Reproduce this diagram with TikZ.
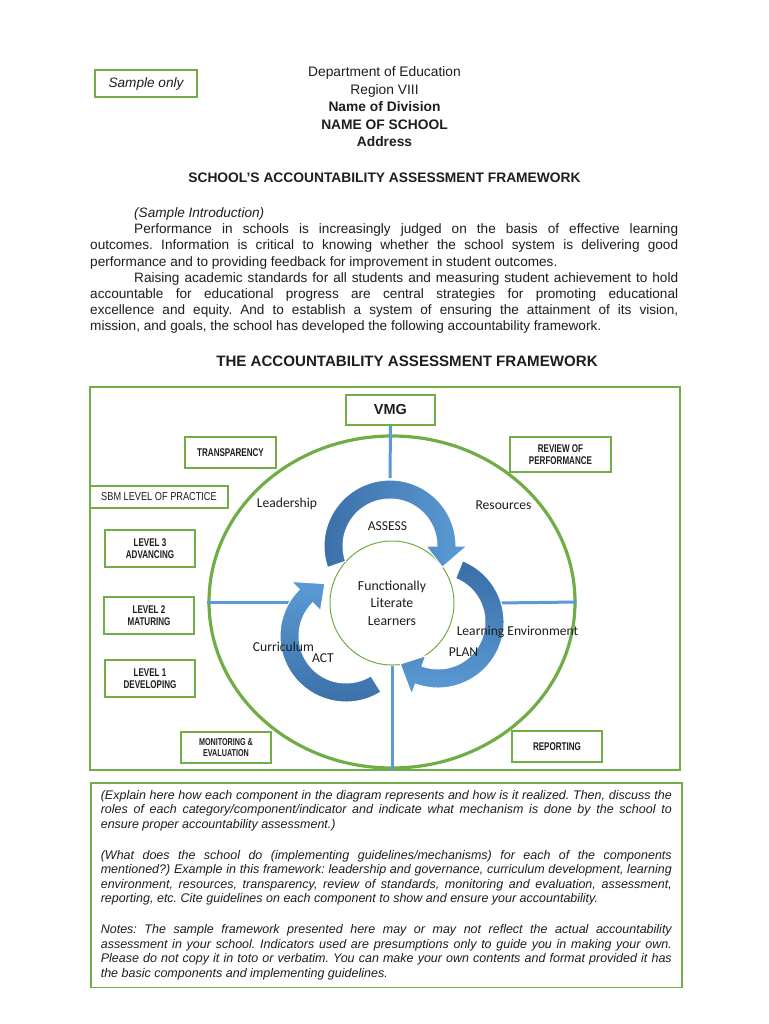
\documentclass[tikz,border=0pt]{standalone}
\usepackage{fontspec}
\setmainfont{Liberation Sans}
\newfontfamily\calfont{Carlito}
\newfontfamily\boxfont[FakeStretch=0.72]{Liberation Sans}
\newfontfamily\sbmfont[FakeStretch=0.8]{Liberation Sans}
\usetikzlibrary{shapes.geometric}
\frenchspacing

\definecolor{frame}{HTML}{70AD47}
\definecolor{linkblue}{HTML}{5B9BD5}
\definecolor{arrowlight}{HTML}{5B9BD5}
\definecolor{arrowdark}{HTML}{3A6DA6}
\definecolor{ink}{HTML}{1E1E1E}

%% radii of the cycle arrows (outer, inner, middle)
\newcommand\Rout{66}
\newcommand\Rin{47}
\newcommand\Rmid{56.5}
%% #1,#2 centre, #3 tail angle, #4 head base angle, #5 tip angle, #6 shading
\newcommand\cyclearrow[6]{%
  \shade[#6, draw=white, line width=1pt]
    ([shift={(#1,#2)}]#3:\Rout) arc[start angle=#3, end angle=#4, radius=\Rout]
    -- ([shift={(#1,#2)}]#4:\Rout+11) -- ([shift={(#1,#2)}]#5:\Rmid)
    -- ([shift={(#1,#2)}]#4:\Rin-11) -- ([shift={(#1,#2)}]#4:\Rin)
    arc[start angle=#4, end angle=#3, radius=\Rin] -- cycle;
}

\begin{document}
\begin{tikzpicture}[x=1pt, y=-1pt,
    txt/.style={inner sep=0pt, text=ink},
    greenbox/.style={draw=frame, line width=1.6pt, inner sep=1pt, align=center,
      text=ink, font=\boxfont\bfseries\fontsize{11.2}{11.5}\selectfont},
    lbl/.style={inner sep=0pt, text=ink, font=\calfont\fontsize{13.6}{16}\selectfont},
    link/.style={draw=linkblue, line width=3pt}]

\fill[white] (0,0) rectangle (768,1024);
\useasboundingbox (0,0) rectangle (768,1024);

%% ---- En-tete ----
\node[greenbox, line width=1.2pt, font=\itshape\fontsize{13.6}{16}\selectfont,
      minimum width=102pt, minimum height=27pt] (sample) at (146,83.5) {Sample only};
\node[txt, align=center, font=\fontsize{13.8}{17.5}\selectfont] (head) at (384.5,107)
  {Department of Education\\Region VIII\\\textbf{Name of Division}\\
   \textbf{NAME OF SCHOOL}\\\textbf{Address}};
\node[txt, font=\bfseries\fontsize{13.8}{16}\selectfont] (title) at (384.5,178)
  {SCHOOL’S ACCOUNTABILITY ASSESSMENT FRAMEWORK};

%% ---- Introduction ----
\node[txt, anchor=north west, text width=588pt, align=justify,
      font=\fontsize{13.6}{16.2}\selectfont] (intro) at (90,207.5)
  {\noindent\hspace*{44pt}\textit{(Sample Introduction)}\par
   \noindent\hspace*{44pt}Performance in schools is increasingly judged on the basis of effective learning\linebreak
   outcomes. Information is critical to knowing whether the school system is delivering good\linebreak
   performance and to providing feedback for improvement in student outcomes.\par
   \noindent\hspace*{44pt}Raising academic standards for all students and measuring student achievement to hold\linebreak
   accountable for educational progress are central strategies for promoting educational\linebreak
   excellence and equity. And to establish a system of ensuring the attainment of its vision,\linebreak
   mission, and goals, the school has developed the following accountability framework.};

\node[txt, font=\bfseries\fontsize{15.1}{17}\selectfont] (frametitle) at (407,361)
  {THE ACCOUNTABILITY ASSESSMENT FRAMEWORK};

%% ---- Cadre du schema ----
\draw[frame, line width=1.8pt] (90,387) rectangle (680,770);
\node[draw=frame, line width=3.2pt, ellipse, inner sep=0pt,
      minimum width=366pt, minimum height=332pt] (ring) at (392,602) {};
\node[draw=frame, line width=1pt, circle, minimum size=124pt, fill=white, inner sep=0pt,
      align=center, text=ink, font=\calfont\fontsize{13.8}{17.5}\selectfont] (hub) at (392,603)
  {Functionally\\Literate\\Learners};

%% ---- Boites ----
\node[greenbox, font=\bfseries\fontsize{14.5}{16}\selectfont,
      minimum width=89pt, minimum height=30pt] (vmg) at (390.5,410) {VMG};
\node[greenbox, minimum width=91pt, minimum height=31pt] (transp) at (230.5,452.5) {TRANSPARENCY};
\node[greenbox, minimum width=101pt, minimum height=35pt] (review) at (560.5,454.5) {REVIEW OF\\PERFORMANCE};
\node[greenbox, font=\sbmfont\fontsize{11.5}{12}\selectfont,
      minimum width=138pt, minimum height=22pt] (sbm) at (159,497) {SBM LEVEL OF PRACTICE};
\node[greenbox, minimum width=90pt, minimum height=37pt] (lvl3) at (150,548.5) {LEVEL 3\\ADVANCING};
\node[greenbox, minimum width=90pt, minimum height=37pt] (lvl2) at (149,615.5) {LEVEL 2\\MATURING};
\node[greenbox, minimum width=90pt, minimum height=37pt] (lvl1) at (150,678.5) {LEVEL 1\\DEVELOPING};
\node[greenbox, font=\boxfont\bfseries\fontsize{10}{11}\selectfont,
      minimum width=90pt, minimum height=31pt] (monit) at (226,747.5) {MONITORING \&\\EVALUATION};
\node[greenbox, minimum width=90pt, minimum height=31pt] (report) at (557,746.5) {REPORTING};

%% ---- Liens bleus ----
\coordinate (vmgend) at (390,478);
\coordinate (leftend) at (298,602);
\coordinate (rightend) at (499,603);
\draw[link] (vmg.south) -- (vmgend);
\draw[link] (ring.west) -- (leftend);
\draw[link] (rightend) -- (ring.east);
\draw[link] (hub.south) -- (ring.south);

%% ---- Fleches du cycle ----
\cyclearrow{346}{636}{58}{225}{248}{bottom color=arrowdark, top color=arrowlight}
\cyclearrow{438}{622}{-68}{110}{132}{top color=arrowdark, bottom color=arrowlight}
\cyclearrow{390}{546}{161}{360}{382}{left color=arrowdark, right color=arrowlight}

%% ---- Etiquettes ----
\node[lbl] (lead) at (287,504) {Leadership};
\node[lbl] (res) at (503.5,505.5) {Resources};
\node[lbl] (assess) at (387.5,526) {ASSESS};
\node[lbl] (learnenv) at (517.5,632) {Learning Environment};
\node[lbl] (plan) at (463.5,652) {PLAN};
\node[lbl] (curric) at (283.5,647) {Curriculum};
\node[lbl] (act) at (323,658) {ACT};

%% ---- Notes ----
\node[draw=frame, line width=1.6pt, anchor=north west, text width=571pt, align=justify,
      inner xsep=10pt, inner ysep=7.5pt, text=ink, font=\itshape\fontsize{12.5}{14.6}\selectfont]
  (notes) at (90,782)
  {(Explain here how each component in the diagram represents and how is it realized. Then, discuss the\linebreak
   roles of each category/component/indicator and indicate what mechanism is done by the school to\linebreak
   ensure proper accountability assessment.)\par\vspace{16pt}
   (What does the school do (implementing guidelines/mechanisms) for each of the components\linebreak
   mentioned?) Example in this framework: leadership and governance, curriculum development, learning\linebreak
   environment, resources, transparency, review of standards, monitoring and evaluation, assessment,\linebreak
   reporting, etc. Cite guidelines on each component to show and ensure your accountability.\par\vspace{16pt}
   Notes: The sample framework presented here may or may not reflect the actual accountability\linebreak
   assessment in your school. Indicators used are presumptions only to guide you in making your own.\linebreak
   Please do not copy it in toto or verbatim. You can make your own contents and format provided it has\linebreak
   the basic components and implementing guidelines.};

\end{tikzpicture}
\end{document}
